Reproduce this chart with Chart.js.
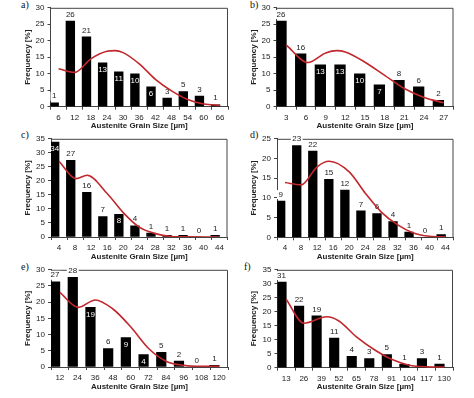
<!DOCTYPE html>
<html>
<head>
<meta charset="utf-8">
<script src="https://cdn.jsdelivr.net/npm/chart.js@4"></script>
<style>
  body { margin: 0; background: #fff; width: 474px; height: 398px; position: relative; overflow: hidden; }
  canvas { position: absolute; }
  .tag { position: absolute; font: 10px "Liberation Serif", "DejaVu Serif", serif; color: #111; line-height: 10px; }
</style>
</head>
<body>
<div class="tag" style="left:21px;top:0px">a)</div>
<div class="tag" style="left:250px;top:0px">b)</div>
<div class="tag" style="left:21px;top:130px">c)</div>
<div class="tag" style="left:250px;top:130px">d)</div>
<div class="tag" style="left:21px;top:262px">e)</div>
<div class="tag" style="left:244px;top:262px">f)</div>

<canvas id="chartA" width="237" height="131" style="left:0;top:0"></canvas>
<canvas id="chartB" width="237" height="131" style="left:237px;top:0"></canvas>
<canvas id="chartC" width="237" height="131" style="left:0;top:131px"></canvas>
<canvas id="chartD" width="237" height="131" style="left:237px;top:131px"></canvas>
<canvas id="chartE" width="237" height="136" style="left:0;top:262px"></canvas>
<canvas id="chartF" width="237" height="136" style="left:237px;top:262px"></canvas>

<script>
// panel a
const aSizes = [6, 12, 18, 24, 30, 36, 42, 48, 54, 60, 66];
const aFreq = [1.2, 26, 21.2, 13.3, 10.6, 10, 6, 2.6, 4.6, 3.2, 0.6];
const aLabels = [1, 26, 21, 13, 11, 10, 6, 3, 5, 3, 1];
const aCurveX = [6, 12, 18, 24, 27, 30, 36, 42, 48, 54, 60, 66];
const aCurveY = [11.5, 10.4, 14.5, 16.8, 17, 16.4, 13, 8.3, 4.8, 2.2, 0.8, 0.4];

// panel b
const bSizes = [3, 6, 9, 12, 15, 18, 21, 24, 27];
const bFreq = [26, 16, 12.7, 12.7, 10, 6.6, 8, 6, 1.9];
const bLabels = [26, 16, 13, 13, 10, 7, 8, 6, 2];
const bCurveX = [3, 6.3, 9, 10.7, 12, 15, 18, 21, 24, 27];
const bCurveY = [18.7, 13.4, 16.3, 17, 16.6, 13.5, 9.5, 5.5, 2.8, 1.2];

// panel c
const cSizes = [4, 8, 12, 16, 20, 24, 28, 32, 36, 40, 44];
const cFreq = [33.8, 27.3, 15.9, 7.3, 8.1, 4, 1.4, 0.6, 0.6, 0, 0.6];
const cLabels = [34, 27, 16, 7, 8, 4, 1, 1, 1, 0, 1];
const cCurveX = [4, 8.2, 11, 16, 20, 24, 28, 32, 36, 40, 44];
const cCurveY = [27, 20.8, 22, 15.5, 8.7, 3.5, 1.2, 0.2, 0.05, 0, 0];

// panel d
const dSizes = [4, 8, 12, 16, 20, 24, 28, 32, 36, 40, 44];
const dFreq = [9.2, 23.3, 21.9, 14.7, 12, 6.7, 6, 4, 1.3, 0, 0.7];
const dLabels = [9, 23, 22, 15, 12, 7, 6, 4, 1, 0, 1];
const dCurveX = [4, 8, 12, 15, 20, 24, 28, 32, 36, 40, 44];
const dCurveY = [13.9, 13.3, 17.9, 19.3, 16.6, 11.2, 6.4, 3.2, 1.1, 0.25, 0.1];

// panel e
const eSizes = [12, 24, 36, 48, 60, 72, 84, 96, 108, 120];
const eFreq = [26.3, 27.7, 18.4, 5.7, 9.1, 3.8, 4.5, 1.8, 0, 0.5];
const eLabels = [27, 28, 19, 6, 9, 4, 5, 2, 0, 1];
const eCurveX = [12, 24.5, 36, 48, 60, 72, 84, 96, 108, 120];
const eCurveY = [23, 18.4, 20.7, 17.9, 12.4, 5.8, 1.8, 0.5, 0.2, 0.2];

// panel f
const fSizes = [13, 26, 39, 52, 65, 78, 91, 104, 117, 130];
const fFreq = [30.6, 22, 18.5, 10.6, 4.1, 3.3, 4.7, 1.2, 3.3, 1.3];
const fLabels = [31, 22, 19, 11, 4, 3, 5, 1, 3, 1];
const fCurveX = [13, 26, 43, 52, 65, 78, 91, 104, 117, 130];
const fCurveY = [24.4, 15.9, 18.2, 16.7, 11, 6.5, 3, 0.9, 0.3, 0.2];

Chart.defaults.font.family = '"Liberation Sans", Arial, sans-serif';
Chart.defaults.font.size = 8;
Chart.defaults.color = '#222';

const barLabelPlugin = {
  id: 'barLabels',
  afterDatasetDraw(chart, args, opts) {
    if (args.index !== 0) return;
    const ctx = chart.ctx;
    ctx.save();
    ctx.font = '8px "Liberation Sans", Arial, sans-serif';
    ctx.textAlign = 'center';
    ctx.textBaseline = 'middle';
    args.meta.data.forEach((bar, i) => {
      const txt = String(opts.labels[i]);
      if (opts.inside.includes(i)) {
        ctx.fillStyle = '#fff';
        ctx.fillText(txt, bar.x, bar.y + 7);
      } else {
        const w = ctx.measureText(txt).width + 3;
        const y = bar.y - 6.5;
        ctx.fillStyle = '#fff';
        ctx.fillRect(bar.x - w / 2, y - 4.5, w, 9);
        ctx.fillStyle = '#222';
        ctx.fillText(txt, bar.x, y);
      }
    });
    ctx.restore();
  }
};

const framePlugin = {
  id: 'frame',
  beforeDatasetsDraw(chart) {
    const a = chart.chartArea;
    const ctx = chart.ctx;
    ctx.save();
    ctx.strokeStyle = '#444';
    ctx.lineWidth = 1;
    ctx.beginPath();
    ctx.moveTo(a.left, a.top + 0.5);
    ctx.lineTo(a.right - 0.5, a.top + 0.5);
    ctx.lineTo(a.right - 0.5, a.bottom);
    ctx.stroke();
    ctx.restore();
  }
};

// pad = [left, top, right, bottom, yAxisWidth]
function drawPanel(id, cats, freq, labels, curveX, curveY, yMax, inside, pad) {
  const step = cats[1] - cats[0];
  const plotWidth = 237 - pad[0] - pad[4] - pad[2];
  new Chart(document.getElementById(id), {
    data: {
      labels: cats,
      datasets: [
        {
          type: 'bar',
          data: freq,
          backgroundColor: '#000',
          barThickness: plotWidth / cats.length * 0.54,
          order: 2,
          xAxisID: 'x',
          yAxisID: 'y'
        },
        {
          type: 'line',
          data: curveX.map((x, i) => ({ x: x, y: curveY[i] })),
          xAxisID: 'x2',
          yAxisID: 'y',
          borderColor: '#c1272d',
          borderWidth: 1.6,
          pointRadius: 0,
          cubicInterpolationMode: 'monotone',
          fill: false,
          order: 1
        }
      ]
    },
    options: {
      responsive: false,
      animation: false,
      layout: { padding: { left: pad[0], top: pad[1], right: pad[2], bottom: pad[3] } },
      plugins: {
        legend: { display: false },
        tooltip: { enabled: false },
        barLabels: { labels: labels, inside: inside }
      },
      scales: {
        x: {
          type: 'category',
          offset: true,
          grid: { offset: true, drawOnChartArea: false, tickLength: 3, color: '#444' },
          border: { color: '#444' },
          ticks: { padding: 3, maxRotation: 0, autoSkip: false },
          title: {
            display: true,
            text: 'Austenite Grain Size [µm]',
            font: { weight: 'bold', size: 8 },
            padding: 0
          },
          afterFit: (s) => { s.height = 24.3; }
        },
        x2: {
          type: 'linear',
          display: false,
          min: cats[0] - step / 2,
          max: cats[cats.length - 1] + step / 2
        },
        y: {
          min: 0,
          max: yMax,
          ticks: { stepSize: 5, padding: 3 },
          grid: { drawOnChartArea: false, tickLength: 3, color: '#444' },
          border: { color: '#444' },
          title: {
            display: true,
            text: 'Frequency [%]',
            font: { weight: 'bold', size: 8 },
            padding: 0
          },
          afterFit: (s) => { s.width = pad[4]; }
        }
      }
    },
    plugins: [barLabelPlugin, framePlugin]
  });
}

drawPanel('chartA', aSizes, aFreq, aLabels, aCurveX, aCurveY, 30, [3, 4, 5, 6], [23, 6.7, 9, 0, 27.5]);
drawPanel('chartB', bSizes, bFreq, bLabels, bCurveX, bCurveY, 30, [2, 3, 4, 5], [12, 6.7, 20.5, 0, 27.5]);
drawPanel('chartC', cSizes, cFreq, cLabels, cCurveX, cCurveY, 35, [0, 4], [23, 7, 9.5, 0.7, 28]);
drawPanel('chartD', dSizes, dFreq, dLabels, dCurveX, dCurveY, 25, [], [12, 7, 20.5, 0.4, 28]);
drawPanel('chartE', eSizes, eFreq, eLabels, eCurveX, eCurveY, 30, [2, 4, 5], [23, 6, 9, 6.7, 28]);
drawPanel('chartF', fSizes, fFreq, fLabels, fCurveX, fCurveY, 35, [], [12, 6.5, 21, 6, 28.5]);
</script>
</body>
</html>
